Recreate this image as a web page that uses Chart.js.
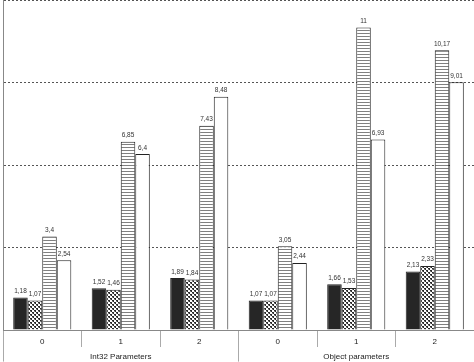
<!DOCTYPE html>
<html>
<head>
<meta charset="utf-8">
<script src="https://cdn.jsdelivr.net/npm/chart.js@4/dist/chart.umd.min.js"></script>
<style>
html,body{margin:0;padding:0;background:#fff;}
#wrap{width:474px;height:362px;}
</style>
</head>
<body>
<div id="wrap"><canvas id="c" width="474" height="362"></canvas></div>
<script>
// ---- data ----
const categories = ['0', '1', '2', '0', '1', '2'];
const groupLabels = ['Int32 Parameters', 'Object parameters'];
const seriesDark = [1.18, 1.52, 1.89, 1.07, 1.66, 2.13];
const seriesDots = [1.07, 1.46, 1.84, 1.07, 1.53, 2.33];
const seriesLines = [3.4, 6.85, 7.43, 3.05, 11, 10.17];
const seriesWhite = [2.54, 6.4, 8.48, 2.44, 6.93, 9.01];
const yTicks = [0, 3, 6, 9, 12];

// ---- patterns ----
function makePattern(w, h, draw) {
  const c = document.createElement('canvas');
  c.width = w; c.height = h;
  const g = c.getContext('2d');
  draw(g);
  return document.getElementById('c').getContext('2d').createPattern(c, 'repeat');
}
const dotPattern = makePattern(4, 4, g => {
  g.fillStyle = '#fff'; g.fillRect(0, 0, 4, 4);
  g.fillStyle = '#2a2a2a';
  g.fillRect(0, 0, 2, 1); g.fillRect(2, 2, 2, 1);
  g.fillRect(1, 1, 1, 1); g.fillRect(3, 3, 1, 1);
  g.fillStyle = '#888';
  g.fillRect(0, 1, 1, 1); g.fillRect(2, 3, 1, 1);
});
const linePattern = makePattern(3, 3, g => {
  g.fillStyle = '#fff'; g.fillRect(0, 0, 3, 3);
  g.fillStyle = '#808080'; g.fillRect(0, 0, 3, 1);
});

const fmt = v => String(v).replace('.', ',');

const valueLabels = {
  id: 'valueLabels',
  afterDatasetsDraw(chart) {
    const ctx = chart.ctx;
    ctx.save();
    ctx.font = '6.5px "Liberation Sans", Arial, sans-serif';
    ctx.fillStyle = '#333';
    ctx.textAlign = 'center';
    ctx.textBaseline = 'bottom';
    chart.data.datasets.forEach((ds, di) => {
      const meta = chart.getDatasetMeta(di);
      meta.data.forEach((bar, i) => {
        ctx.fillText(fmt(ds.data[i]), bar.x, bar.y - 3);
      });
    });
    ctx.restore();
  }
};

const common = { borderColor: '#222', borderWidth: 1 };
const tickFont = { size: 8, family: '"Liberation Sans", Arial, sans-serif', lineHeight: 1.2 };

new Chart(document.getElementById('c'), {
  type: 'bar',
  data: {
    labels: categories,
    datasets: [
      Object.assign({ label: 'A', data: seriesDark, backgroundColor: '#262626' }, common),
      Object.assign({ label: 'B', data: seriesDots, backgroundColor: dotPattern }, common),
      Object.assign({ label: 'C', data: seriesLines, backgroundColor: linePattern }, common),
      Object.assign({ label: 'D', data: seriesWhite, backgroundColor: '#ffffff' }, common)
    ]
  },
  options: {
    responsive: false,
    animation: false,
    devicePixelRatio: 1,
    layout: { padding: { left: 3, right: 0, top: 0, bottom: 0 } },
    datasets: { bar: { categoryPercentage: 0.74, barPercentage: 1 } },
    plugins: { legend: { display: false }, tooltip: { enabled: false } },
    scales: {
      x: {
        weight: 1,
        grid: { offset: true, drawOnChartArea: false, tickLength: 17, color: '#aaa' },
        border: { display: true, color: '#888' },
        ticks: { padding: -5, crossAlign: 'far', maxRotation: 0, autoSkip: false, color: '#222', font: tickFont }
      },
      x2: {
        type: 'category',
        labels: groupLabels,
        position: 'bottom',
        weight: 2,
        grid: { offset: true, drawOnChartArea: false, tickLength: 15, color: '#aaa' },
        border: { display: false },
        ticks: { padding: -4.6, crossAlign: 'far', maxRotation: 0, autoSkip: false, color: '#222', font: tickFont }
      },
      y: {
        min: 0, max: 12,
        afterBuildTicks: s => { s.ticks = yTicks.map(v => ({ value: v })); },
        ticks: { display: false },
        grid: { drawTicks: false, color: '#555' },
        border: { display: true, color: '#888', dash: [2, 2] }
      }
    }
  },
  plugins: [valueLabels]
});
</script>
</body>
</html>
